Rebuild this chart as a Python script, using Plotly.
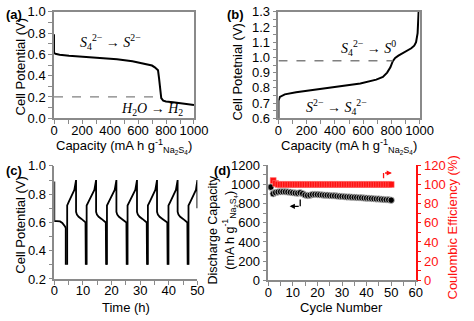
import plotly.graph_objects as go

# ---------------- data ----------------
# (a) discharge curve
a_cap = [0, 0, 10, 40, 107, 200, 334, 450, 560, 652, 700, 720, 735, 743, 750, 758, 766, 780, 800, 850, 900, 950, 1000]
a_volt = [0.79, 0.615, 0.605, 0.597, 0.588, 0.578, 0.567, 0.553, 0.535, 0.513, 0.495, 0.478, 0.462, 0.45, 0.38, 0.25,
          0.19, 0.165, 0.158, 0.15, 0.143, 0.135, 0.125]
a_ref_cap = [0, 766]
a_ref_volt = [0.2, 0.2]

# (b) charge curve
b_cap = [0, 0, 10, 45, 125, 240, 352, 460, 580, 693, 740, 770, 793, 810, 827, 850, 884, 920, 941, 962, 975, 986, 990, 993]
b_volt = [0.60, 0.715, 0.74, 0.757, 0.771, 0.785, 0.798, 0.812, 0.829, 0.854, 0.872, 0.9, 0.935, 0.975, 0.997, 1.012,
          1.029, 1.045, 1.06, 1.077, 1.10, 1.16, 1.22, 1.3]
b_ref_cap = [0, 810]
b_ref_volt = [0.978, 0.978]

# (c) cycling, time (h) vs potential (V); None separates segments
c_time = [0, 0, 0.9, 2.0, 2.8, 3.5, 3.8, 4.0, 4.0, None,
          4.5, 4.5, 5.2, 6.3, 7.0, 7.6, 7.6, 7.9, 8.5, 9.5, 10.4, 10.9, 11.0, None,
          11.3, 11.3, 12.1, 13.2, 14.0, 14.6, 14.6, 14.9, 15.5, 16.5, 17.4, 18.0, 18.1, None,
          18.4, 18.4, 19.2, 20.3, 21.1, 21.7, 21.7, 22.0, 22.6, 23.6, 24.6, 25.2, 25.3, None,
          25.6, 25.6, 26.4, 27.5, 28.3, 28.9, 28.9, 29.2, 29.8, 30.8, 31.7, 32.3, 32.4, None,
          32.7, 32.7, 33.5, 34.6, 35.3, 35.9, 35.9, 36.2, 36.8, 37.8, 38.9, 39.5, 39.6, None,
          39.9, 39.9, 40.7, 41.8, 42.5, 43.1, 43.1, 43.4, 44.0, 45.0, 45.9, 46.5, 46.6, None,
          46.9, 46.9, 47.7, 48.8, 49.5, 50.0, 50.0]
c_volt = [0.89, 0.61, 0.61, 0.607, 0.596, 0.58, 0.569, 0.56, 0.30, None,
          0.30, 0.72, 0.753, 0.798, 0.83, 0.90, 0.675, 0.655, 0.64, 0.625, 0.61, 0.60, 0.30, None,
          0.30, 0.72, 0.753, 0.798, 0.83, 0.90, 0.675, 0.655, 0.64, 0.625, 0.61, 0.60, 0.30, None,
          0.30, 0.72, 0.753, 0.798, 0.83, 0.90, 0.675, 0.655, 0.64, 0.625, 0.61, 0.60, 0.30, None,
          0.30, 0.72, 0.753, 0.798, 0.83, 0.90, 0.675, 0.655, 0.64, 0.625, 0.61, 0.60, 0.30, None,
          0.30, 0.72, 0.753, 0.798, 0.83, 0.90, 0.675, 0.655, 0.64, 0.625, 0.61, 0.60, 0.30, None,
          0.30, 0.72, 0.753, 0.798, 0.83, 0.90, 0.675, 0.655, 0.64, 0.625, 0.61, 0.60, 0.30, None,
          0.30, 0.72, 0.753, 0.798, 0.83, 0.90, 0.70]

# (d) cycling performance
d_cycle = list(range(1, 51))
d_capacity = [972, 903, 915, 921, 924, 924, 923, 921, 918, 914, 910, 909, 913, 903, 890, 885, 888, 895, 896, 894,
              892, 890, 888, 887, 884, 882, 881, 878, 876, 875, 872, 870, 869, 867, 865, 864, 862, 860, 858, 857,
              855, 853, 851, 849, 848, 845, 843, 841, 839, 836]
d_ce_cycle = list(range(2, 51))
d_ce = [104, 101] + [100] * 47

# ---------------- styling ----------------
W, H = 474, 321
FONT = "Liberation Sans, Arial, sans-serif"
SERIF = "Liberation Serif, DejaVu Serif, serif"
AX = "#8a8a8a"
RED = "#ff1010"


def px_x(p):
    return p / W


def px_y(p):
    return 1 - p / H


def axis(domain, rng, dtick, minor, fmt=None, color=AX, tickcolor="black", mirror=False, **kw):
    d = dict(domain=domain, range=rng, dtick=dtick, tick0=0, showgrid=False, zeroline=False,
             showline=True, linecolor=color, linewidth=1.5, ticks="outside", ticklen=4,
             tickcolor=color, tickwidth=1, tickfont=dict(family=FONT, size=13, color=tickcolor),
             minor=dict(ticks="outside", dtick=minor, ticklen=4, tickcolor=color, tickwidth=1),
             mirror=mirror)
    if fmt:
        d["tickformat"] = fmt
    d.update(kw)
    return d


cap_title = "Capacity (mA h g<sup>-1</sup><sub>Na<sub>2</sub>S<sub>4</sub></sub>)"

fig = go.Figure()
line = dict(color="black", width=2)
dash = dict(color="#808080", width=1.3, dash="dash")

fig.add_trace(go.Scatter(x=a_cap, y=a_volt, mode="lines", line=line, xaxis="x", yaxis="y"))
fig.add_trace(go.Scatter(x=a_ref_cap, y=a_ref_volt, mode="lines", line=dash, xaxis="x", yaxis="y"))
fig.add_trace(go.Scatter(x=b_cap, y=b_volt, mode="lines", line=line, xaxis="x2", yaxis="y2"))
fig.add_trace(go.Scatter(x=b_ref_cap, y=b_ref_volt, mode="lines", line=dash, xaxis="x2", yaxis="y2"))
fig.add_trace(go.Scatter(x=c_time, y=c_volt, mode="lines", line=dict(color="black", width=1.8),
                         connectgaps=False, xaxis="x3", yaxis="y3"))
fig.add_trace(go.Scatter(x=d_cycle, y=d_capacity, mode="markers", xaxis="x4", yaxis="y4",
                         marker=dict(symbol="circle", size=6.5, color="black", line=dict(color="#cccccc", width=0.8))))
fig.add_trace(go.Scatter(x=d_ce_cycle, y=d_ce, mode="markers", xaxis="x4", yaxis="y5",
                         marker=dict(symbol="square", size=6, color=RED, line=dict(color="#ff8080", width=0.5))))

a_dom_x = [px_x(52), px_x(197.5)]
b_dom_x = [px_x(285.3), px_x(432)]
top_dom_y = [px_y(116.7), px_y(5)]
c_dom_x = [px_x(52.3), px_x(201)]
c_dom_y = [px_y(285.3), px_y(166.7)]
d_dom_x = [px_x(274.7), px_x(428)]
d_dom_y = [px_y(286.7), px_y(166)]

XS = -5  # pull x tick labels up towards the axis

layout = dict(
    width=W, height=H, margin=dict(l=0, r=0, t=0, b=0), showlegend=False,
    paper_bgcolor="white", plot_bgcolor="white",
    xaxis=axis(a_dom_x, [0, 1000], 200, 100, anchor="y", mirror=True, ticklabelstandoff=XS),
    yaxis=axis(top_dom_y, [0, 1], 0.2, 0.1, ".1f", anchor="x", mirror=True),
    xaxis2=axis(b_dom_x, [0, 1000], 200, 100, anchor="y2", mirror=True, ticklabelstandoff=XS),
    yaxis2=axis(top_dom_y, [0.6, 1.3], 0.1, 0.05, ".1f", anchor="x2", mirror=True),
    xaxis3=axis(c_dom_x, [0, 50], 10, 5, anchor="y3", ticklabelstandoff=XS),
    yaxis3=axis(c_dom_y, [0.2, 1.0], 0.2, 0.1, ".1f", anchor="x3"),
    xaxis4=axis(d_dom_x, [0, 60], 10, 5, anchor="y4", ticklabelstandoff=XS),
    yaxis4=axis(d_dom_y, [0, 1200], 200, 100, anchor="x4"),
    yaxis5=axis(d_dom_y, [0, 120], 20, 10, color=RED, tickcolor=RED,
                anchor="x4", overlaying="y4", side="right"),
)
fig.update_layout(**layout)

ann = []
for lbl, x, y in [("(a)", 0, 8), ("(b)", 230, 8), ("(c)", 0, 171), ("(d)", 216, 171)]:
    ann.append(dict(text="<b>" + lbl + "</b>", x=px_x(x), y=px_y(y), xref="paper", yref="paper",
                    xanchor="left", yanchor="middle", showarrow=False,
                    font=dict(family=FONT, size=13, color="black")))

# axis titles placed as text at fixed positions
titles = [
    ("Cell Potential (V)", 17, 62, -90, "black", 13),
    (cap_title, 125, 146.5, 0, "black", 13),
    ("Cell Potetnial (V)", 243, 68, -90, "black", 13),
    (cap_title, 359, 146.5, 0, "black", 13),
    ("Cell Potential (V)", 17, 228, -90, "black", 13),
    ("Time (h)", 127, 315, 0, "black", 13),
    ("Discharge Capacity<br>(mA h g<sup>-1</sup><sub>Na<sub>2</sub>S<sub>4</sub></sub>)", 227, 234, -90, "black", 12.5),
    ("Cycle Number", 351, 315.5, 0, "black", 13),
    ("Coulombic Efficiency (%)", 466, 231, -90, RED, 13),
]
for txt, x, y, ang, col, fs in titles:
    ann.append(dict(text=txt, x=px_x(x), y=px_y(y), xref="paper", yref="paper", xanchor="center",
                    yanchor="middle", textangle=ang, showarrow=False,
                    font=dict(family=FONT, size=fs, color=col)))

serif = dict(family=SERIF, size=14, color="black")
ann += [
    dict(text="<i>S</i><sub>4</sub><sup>2−</sup> → <i>S</i><sup>2−</sup>", x=400, y=0.72, xref="x", yref="y",
         showarrow=False, font=serif),
    dict(text="<i>H</i><sub>2</sub><i>O</i> → <i>H</i><sub>2</sub>", x=700, y=0.08, xref="x", yref="y",
         showarrow=False, font=serif),
    dict(text="<i>S</i><sub>4</sub><sup>2−</sup> → <i>S</i><sup>0</sup>", x=635, y=1.06, xref="x2", yref="y2",
         showarrow=False, font=serif),
    dict(text="<i>S</i><sup>2−</sup> → <i>S</i><sub>4</sub><sup>2−</sup>", x=414, y=0.673, xref="x2", yref="y2",
         showarrow=False, font=serif),
    dict(x=8.7, y=772, ax=13, ay=772, xref="x4", yref="y4", axref="x4", ayref="y4", text="",
         showarrow=True, arrowhead=2, arrowsize=0.8, arrowwidth=1.3, arrowcolor="black"),
    dict(x=50.3, y=111.9, ax=46.9, ay=111.9, xref="x4", yref="y5", axref="x4", ayref="y5", text="",
         showarrow=True, arrowhead=2, arrowsize=0.8, arrowwidth=1.3, arrowcolor=RED),
]
fig.update_layout(annotations=ann)

fig.update_layout(shapes=[
    dict(type="line", x0=13, x1=13, y0=843, y1=772, xref="x4", yref="y4", line=dict(color="black", width=1.3)),
    dict(type="line", x0=46.9, x1=46.9, y0=106.4, y1=111.9, xref="x4", yref="y5", line=dict(color=RED, width=1.3)),
])

fig.write_html("out.html")
